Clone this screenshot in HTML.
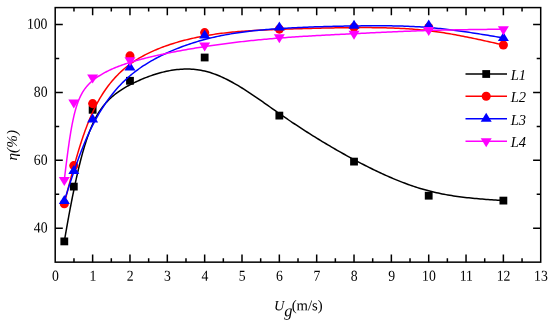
<!DOCTYPE html>
<html><head><meta charset="utf-8"><title>chart</title>
<style>html,body{margin:0;padding:0;background:#fff}svg{display:block}text{font-family:"Liberation Serif",serif;fill:#000}</style></head><body>
<svg width="550" height="323" viewBox="0 0 550 323">
<rect width="550" height="323" fill="#fff"/>
<path d="M64.30 241.40 L64.54 240.03 L64.78 238.66 L65.01 237.29 L65.25 235.92 L65.49 234.54 L65.73 233.17 L65.97 231.79 L66.21 230.41 L66.46 229.03 L66.70 227.64 L66.94 226.25 L67.19 224.86 L67.44 223.46 L67.69 222.06 L67.94 220.66 L68.20 219.25 L68.46 217.83 L68.72 216.41 L68.98 214.98 L69.24 213.54 L69.51 212.10 L69.78 210.65 L70.06 209.19 L70.34 207.73 L70.62 206.25 L70.90 204.77 L71.19 203.28 L71.48 201.78 L71.78 200.27 L72.08 198.75 L72.39 197.22 L72.70 195.68 L73.01 194.13 L73.33 192.57 L73.66 190.99 L73.98 189.41 L74.32 187.81 L74.66 186.20 L75.01 184.57 L75.36 182.93 L75.71 181.28 L76.08 179.62 L76.45 177.94 L76.82 176.25 L77.20 174.56 L77.59 172.86 L77.99 171.14 L78.39 169.43 L78.80 167.70 L79.21 165.98 L79.64 164.25 L80.07 162.52 L80.51 160.79 L80.95 159.05 L81.41 157.32 L81.87 155.60 L82.34 153.87 L82.82 152.16 L83.30 150.44 L83.80 148.74 L84.30 147.04 L84.82 145.35 L85.34 143.67 L85.87 142.01 L86.41 140.35 L86.96 138.71 L87.52 137.08 L88.09 135.47 L88.67 133.88 L89.26 132.30 L89.85 130.75 L90.46 129.21 L91.08 127.69 L91.71 126.20 L92.35 124.73 L93.01 123.28 L93.67 121.86 L94.34 120.47 L95.03 119.10 L95.72 117.77 L96.43 116.46 L97.15 115.18 L97.88 113.93 L98.63 112.71 L99.39 111.51 L100.16 110.35 L100.94 109.20 L101.74 108.09 L102.55 106.99 L103.37 105.93 L104.21 104.88 L105.07 103.86 L105.94 102.86 L106.82 101.88 L107.72 100.92 L108.64 99.98 L109.57 99.06 L110.52 98.16 L111.49 97.28 L112.47 96.41 L113.47 95.57 L114.49 94.73 L115.53 93.92 L116.59 93.12 L117.66 92.33 L118.75 91.55 L119.86 90.79 L121.00 90.04 L122.15 89.30 L123.32 88.58 L124.51 87.86 L125.72 87.15 L126.96 86.45 L128.21 85.76 L129.49 85.08 L130.79 84.40 L132.11 83.73 L133.45 83.07 L134.81 82.41 L136.20 81.75 L137.62 81.10 L139.05 80.45 L140.51 79.81 L141.98 79.18 L143.48 78.55 L145.00 77.93 L146.54 77.33 L148.10 76.73 L149.68 76.15 L151.28 75.59 L152.89 75.04 L154.52 74.50 L156.16 73.99 L157.83 73.49 L159.50 73.01 L161.20 72.55 L162.90 72.12 L164.62 71.71 L166.35 71.32 L168.10 70.96 L169.85 70.63 L171.62 70.33 L173.40 70.05 L175.19 69.81 L176.98 69.60 L178.79 69.42 L180.60 69.28 L182.42 69.17 L184.25 69.10 L186.09 69.06 L187.93 69.07 L189.77 69.11 L191.62 69.20 L193.48 69.33 L195.34 69.50 L197.20 69.72 L199.06 69.99 L200.93 70.30 L202.79 70.66 L204.66 71.07 L206.53 71.53 L208.39 72.04 L210.26 72.59 L212.13 73.20 L214.00 73.85 L215.86 74.54 L217.73 75.27 L219.60 76.05 L221.46 76.86 L223.33 77.72 L225.20 78.61 L227.06 79.53 L228.93 80.49 L230.80 81.47 L232.67 82.49 L234.53 83.54 L236.40 84.62 L238.27 85.72 L240.13 86.84 L242.00 87.99 L243.87 89.16 L245.73 90.36 L247.60 91.57 L249.47 92.79 L251.34 94.04 L253.20 95.29 L255.07 96.56 L256.94 97.84 L258.80 99.14 L260.67 100.44 L262.54 101.74 L264.40 103.06 L266.27 104.37 L268.14 105.69 L270.01 107.01 L271.87 108.33 L273.74 109.65 L275.61 110.97 L277.47 112.28 L279.34 113.58 L281.21 114.88 L283.07 116.17 L284.94 117.45 L286.81 118.73 L288.68 120.00 L290.54 121.25 L292.41 122.51 L294.28 123.75 L296.14 124.99 L298.01 126.22 L299.88 127.44 L301.74 128.65 L303.61 129.86 L305.48 131.06 L307.34 132.25 L309.21 133.44 L311.08 134.61 L312.95 135.78 L314.81 136.95 L316.68 138.10 L318.55 139.25 L320.41 140.39 L322.28 141.52 L324.15 142.64 L326.02 143.76 L327.88 144.87 L329.75 145.97 L331.62 147.07 L333.48 148.15 L335.35 149.23 L337.22 150.30 L339.08 151.37 L340.95 152.43 L342.82 153.48 L344.69 154.52 L346.55 155.55 L348.42 156.58 L350.29 157.60 L352.15 158.61 L354.02 159.62 L355.89 160.61 L357.75 161.60 L359.62 162.59 L361.49 163.56 L363.36 164.52 L365.22 165.48 L367.09 166.43 L368.96 167.37 L370.82 168.29 L372.69 169.21 L374.56 170.12 L376.42 171.02 L378.29 171.91 L380.16 172.78 L382.03 173.65 L383.89 174.50 L385.76 175.34 L387.63 176.17 L389.49 176.99 L391.36 177.79 L393.23 178.59 L395.09 179.36 L396.96 180.13 L398.83 180.88 L400.70 181.62 L402.56 182.34 L404.43 183.05 L406.30 183.75 L408.16 184.43 L410.03 185.09 L411.90 185.74 L413.76 186.37 L415.63 186.99 L417.50 187.59 L419.37 188.17 L421.23 188.74 L423.10 189.29 L424.97 189.82 L426.83 190.34 L428.70 190.83 L430.61 191.32 L432.53 191.80 L434.44 192.25 L436.36 192.69 L438.27 193.10 L440.19 193.51 L442.10 193.89 L444.02 194.26 L445.93 194.62 L447.85 194.96 L449.76 195.28 L451.68 195.59 L453.59 195.89 L455.51 196.18 L457.42 196.45 L459.34 196.71 L461.25 196.96 L463.17 197.20 L465.08 197.43 L467.00 197.65 L468.91 197.86 L470.83 198.06 L472.74 198.25 L474.66 198.44 L476.57 198.62 L478.49 198.79 L480.40 198.95 L482.32 199.11 L484.23 199.26 L486.15 199.41 L488.06 199.55 L489.98 199.69 L491.89 199.83 L493.81 199.96 L495.72 200.09 L497.64 200.22 L499.55 200.35 L501.47 200.47 L503.38 200.60" fill="none" stroke="#000000" stroke-width="1.5"/>
<rect x="60.40" y="237.50" width="7.8" height="7.8" fill="#000000"/>
<rect x="69.90" y="182.70" width="7.8" height="7.8" fill="#000000"/>
<rect x="88.74" y="105.90" width="7.8" height="7.8" fill="#000000"/>
<rect x="126.08" y="76.90" width="7.8" height="7.8" fill="#000000"/>
<rect x="200.76" y="53.60" width="7.8" height="7.8" fill="#000000"/>
<rect x="275.44" y="111.70" width="7.8" height="7.8" fill="#000000"/>
<rect x="350.12" y="157.70" width="7.8" height="7.8" fill="#000000"/>
<rect x="424.80" y="191.80" width="7.8" height="7.8" fill="#000000"/>
<rect x="499.48" y="196.70" width="7.8" height="7.8" fill="#000000"/>
<path d="M64.30 203.80 L64.54 202.84 L64.78 201.89 L65.01 200.93 L65.25 199.98 L65.49 199.02 L65.73 198.06 L65.97 197.09 L66.21 196.13 L66.46 195.16 L66.70 194.19 L66.94 193.21 L67.19 192.23 L67.44 191.25 L67.69 190.26 L67.94 189.27 L68.20 188.27 L68.46 187.26 L68.72 186.25 L68.98 185.23 L69.24 184.20 L69.51 183.17 L69.78 182.13 L70.06 181.08 L70.34 180.02 L70.62 178.96 L70.90 177.88 L71.19 176.80 L71.48 175.70 L71.78 174.59 L72.08 173.48 L72.39 172.35 L72.70 171.21 L73.01 170.06 L73.33 168.89 L73.66 167.72 L73.98 166.53 L74.32 165.33 L74.66 164.11 L75.01 162.88 L75.36 161.63 L75.71 160.37 L76.08 159.10 L76.45 157.81 L76.82 156.51 L77.20 155.20 L77.59 153.87 L77.99 152.54 L78.39 151.19 L78.80 149.83 L79.21 148.46 L79.64 147.09 L80.07 145.70 L80.51 144.31 L80.95 142.91 L81.41 141.51 L81.87 140.10 L82.34 138.68 L82.82 137.26 L83.30 135.83 L83.80 134.40 L84.30 132.97 L84.82 131.54 L85.34 130.10 L85.87 128.66 L86.41 127.22 L86.96 125.78 L87.52 124.35 L88.09 122.91 L88.67 121.48 L89.26 120.04 L89.85 118.61 L90.46 117.19 L91.08 115.77 L91.71 114.35 L92.35 112.94 L93.01 111.53 L93.67 110.13 L94.34 108.74 L95.03 107.36 L95.72 105.98 L96.43 104.62 L97.15 103.26 L97.88 101.91 L98.63 100.57 L99.39 99.24 L100.16 97.92 L100.94 96.61 L101.74 95.31 L102.55 94.02 L103.37 92.74 L104.21 91.48 L105.07 90.22 L105.94 88.97 L106.82 87.73 L107.72 86.51 L108.64 85.30 L109.57 84.09 L110.52 82.90 L111.49 81.72 L112.47 80.56 L113.47 79.40 L114.49 78.26 L115.53 77.13 L116.59 76.01 L117.66 74.91 L118.75 73.81 L119.86 72.74 L121.00 71.67 L122.15 70.62 L123.32 69.58 L124.51 68.55 L125.72 67.54 L126.96 66.54 L128.21 65.56 L129.49 64.59 L130.79 63.64 L132.11 62.70 L133.45 61.77 L134.81 60.86 L136.20 59.97 L137.62 59.09 L139.05 58.22 L140.51 57.37 L141.98 56.54 L143.48 55.72 L145.00 54.91 L146.54 54.12 L148.10 53.35 L149.68 52.59 L151.28 51.84 L152.89 51.11 L154.52 50.39 L156.16 49.69 L157.83 49.00 L159.50 48.33 L161.20 47.67 L162.90 47.02 L164.62 46.39 L166.35 45.77 L168.10 45.17 L169.85 44.58 L171.62 44.00 L173.40 43.44 L175.19 42.89 L176.98 42.36 L178.79 41.84 L180.60 41.33 L182.42 40.83 L184.25 40.35 L186.09 39.88 L187.93 39.42 L189.77 38.98 L191.62 38.55 L193.48 38.14 L195.34 37.73 L197.20 37.34 L199.06 36.96 L200.93 36.59 L202.79 36.24 L204.66 35.90 L206.53 35.57 L208.39 35.25 L210.26 34.95 L212.13 34.66 L214.00 34.37 L215.86 34.10 L217.73 33.84 L219.60 33.59 L221.46 33.35 L223.33 33.12 L225.20 32.90 L227.06 32.69 L228.93 32.49 L230.80 32.29 L232.67 32.11 L234.53 31.93 L236.40 31.76 L238.27 31.60 L240.13 31.44 L242.00 31.30 L243.87 31.15 L245.73 31.02 L247.60 30.89 L249.47 30.77 L251.34 30.65 L253.20 30.54 L255.07 30.43 L256.94 30.33 L258.80 30.23 L260.67 30.14 L262.54 30.05 L264.40 29.96 L266.27 29.88 L268.14 29.80 L270.01 29.72 L271.87 29.65 L273.74 29.57 L275.61 29.50 L277.47 29.43 L279.34 29.37 L281.21 29.30 L283.07 29.23 L284.94 29.17 L286.81 29.10 L288.68 29.04 L290.54 28.98 L292.41 28.92 L294.28 28.86 L296.14 28.80 L298.01 28.74 L299.88 28.69 L301.74 28.63 L303.61 28.58 L305.48 28.53 L307.34 28.48 L309.21 28.43 L311.08 28.38 L312.95 28.33 L314.81 28.28 L316.68 28.24 L318.55 28.20 L320.41 28.15 L322.28 28.11 L324.15 28.07 L326.02 28.04 L327.88 28.00 L329.75 27.97 L331.62 27.93 L333.48 27.90 L335.35 27.87 L337.22 27.84 L339.08 27.81 L340.95 27.79 L342.82 27.76 L344.69 27.74 L346.55 27.72 L348.42 27.70 L350.29 27.68 L352.15 27.66 L354.02 27.65 L355.89 27.64 L357.75 27.63 L359.62 27.62 L361.49 27.61 L363.36 27.61 L365.22 27.61 L367.09 27.61 L368.96 27.61 L370.82 27.62 L372.69 27.63 L374.56 27.65 L376.42 27.67 L378.29 27.69 L380.16 27.72 L382.03 27.75 L383.89 27.79 L385.76 27.83 L387.63 27.88 L389.49 27.93 L391.36 27.99 L393.23 28.06 L395.09 28.13 L396.96 28.21 L398.83 28.29 L400.70 28.38 L402.56 28.48 L404.43 28.59 L406.30 28.70 L408.16 28.82 L410.03 28.95 L411.90 29.08 L413.76 29.23 L415.63 29.38 L417.50 29.54 L419.37 29.71 L421.23 29.89 L423.10 30.08 L424.97 30.27 L426.83 30.48 L428.70 30.70 L430.61 30.93 L432.53 31.18 L434.44 31.43 L436.36 31.70 L438.27 31.97 L440.19 32.25 L442.10 32.54 L444.02 32.84 L445.93 33.15 L447.85 33.47 L449.76 33.79 L451.68 34.13 L453.59 34.47 L455.51 34.81 L457.42 35.17 L459.34 35.53 L461.25 35.89 L463.17 36.27 L465.08 36.65 L467.00 37.03 L468.91 37.42 L470.83 37.81 L472.74 38.21 L474.66 38.62 L476.57 39.02 L478.49 39.43 L480.40 39.85 L482.32 40.27 L484.23 40.69 L486.15 41.11 L488.06 41.54 L489.98 41.96 L491.89 42.39 L493.81 42.83 L495.72 43.26 L497.64 43.69 L499.55 44.13 L501.47 44.56 L503.38 45.00" fill="none" stroke="#ff0000" stroke-width="1.5"/>
<circle cx="64.30" cy="203.80" r="4.55" fill="#ff0000"/>
<circle cx="73.80" cy="165.60" r="4.55" fill="#ff0000"/>
<circle cx="92.64" cy="103.60" r="4.55" fill="#ff0000"/>
<circle cx="129.98" cy="55.90" r="4.55" fill="#ff0000"/>
<circle cx="204.66" cy="32.60" r="4.55" fill="#ff0000"/>
<circle cx="279.34" cy="29.10" r="4.55" fill="#ff0000"/>
<circle cx="354.02" cy="27.20" r="4.55" fill="#ff0000"/>
<circle cx="428.70" cy="27.40" r="4.55" fill="#ff0000"/>
<circle cx="503.38" cy="45.00" r="4.55" fill="#ff0000"/>
<path d="M64.30 201.00 L64.54 200.25 L64.78 199.50 L65.01 198.75 L65.25 198.00 L65.49 197.24 L65.73 196.49 L65.97 195.73 L66.21 194.97 L66.46 194.21 L66.70 193.44 L66.94 192.68 L67.19 191.90 L67.44 191.13 L67.69 190.35 L67.94 189.56 L68.20 188.77 L68.46 187.97 L68.72 187.17 L68.98 186.37 L69.24 185.55 L69.51 184.73 L69.78 183.90 L70.06 183.07 L70.34 182.23 L70.62 181.38 L70.90 180.52 L71.19 179.65 L71.48 178.77 L71.78 177.88 L72.08 176.99 L72.39 176.08 L72.70 175.17 L73.01 174.24 L73.33 173.30 L73.66 172.35 L73.98 171.39 L74.32 170.41 L74.66 169.43 L75.01 168.43 L75.36 167.42 L75.71 166.39 L76.08 165.35 L76.45 164.30 L76.82 163.24 L77.20 162.16 L77.59 161.07 L77.99 159.97 L78.39 158.86 L78.80 157.74 L79.21 156.61 L79.64 155.47 L80.07 154.32 L80.51 153.16 L80.95 151.99 L81.41 150.81 L81.87 149.62 L82.34 148.42 L82.82 147.22 L83.30 146.01 L83.80 144.79 L84.30 143.57 L84.82 142.33 L85.34 141.10 L85.87 139.85 L86.41 138.60 L86.96 137.35 L87.52 136.09 L88.09 134.82 L88.67 133.56 L89.26 132.28 L89.85 131.01 L90.46 129.73 L91.08 128.45 L91.71 127.16 L92.35 125.87 L93.01 124.59 L93.67 123.30 L94.34 122.00 L95.03 120.71 L95.72 119.42 L96.43 118.12 L97.15 116.83 L97.88 115.54 L98.63 114.24 L99.39 112.95 L100.16 111.66 L100.94 110.37 L101.74 109.08 L102.55 107.80 L103.37 106.52 L104.21 105.24 L105.07 103.96 L105.94 102.69 L106.82 101.42 L107.72 100.16 L108.64 98.90 L109.57 97.64 L110.52 96.39 L111.49 95.15 L112.47 93.91 L113.47 92.67 L114.49 91.45 L115.53 90.23 L116.59 89.01 L117.66 87.81 L118.75 86.61 L119.86 85.42 L121.00 84.24 L122.15 83.07 L123.32 81.90 L124.51 80.75 L125.72 79.61 L126.96 78.47 L128.21 77.35 L129.49 76.23 L130.79 75.13 L132.11 74.04 L133.45 72.96 L134.81 71.89 L136.20 70.83 L137.62 69.79 L139.05 68.76 L140.51 67.74 L141.98 66.73 L143.48 65.74 L145.00 64.76 L146.54 63.79 L148.10 62.84 L149.68 61.90 L151.28 60.97 L152.89 60.05 L154.52 59.15 L156.16 58.26 L157.83 57.39 L159.50 56.53 L161.20 55.68 L162.90 54.84 L164.62 54.02 L166.35 53.21 L168.10 52.42 L169.85 51.64 L171.62 50.87 L173.40 50.12 L175.19 49.38 L176.98 48.66 L178.79 47.95 L180.60 47.25 L182.42 46.57 L184.25 45.90 L186.09 45.25 L187.93 44.61 L189.77 43.98 L191.62 43.37 L193.48 42.78 L195.34 42.20 L197.20 41.63 L199.06 41.08 L200.93 40.54 L202.79 40.02 L204.66 39.52 L206.53 39.03 L208.39 38.55 L210.26 38.09 L212.13 37.64 L214.00 37.21 L215.86 36.79 L217.73 36.38 L219.60 35.98 L221.46 35.60 L223.33 35.24 L225.20 34.88 L227.06 34.53 L228.93 34.20 L230.80 33.88 L232.67 33.57 L234.53 33.27 L236.40 32.98 L238.27 32.70 L240.13 32.44 L242.00 32.18 L243.87 31.93 L245.73 31.69 L247.60 31.46 L249.47 31.23 L251.34 31.02 L253.20 30.81 L255.07 30.61 L256.94 30.42 L258.80 30.24 L260.67 30.06 L262.54 29.89 L264.40 29.72 L266.27 29.57 L268.14 29.41 L270.01 29.27 L271.87 29.12 L273.74 28.99 L275.61 28.85 L277.47 28.72 L279.34 28.60 L281.21 28.48 L283.07 28.36 L284.94 28.25 L286.81 28.14 L288.68 28.03 L290.54 27.93 L292.41 27.83 L294.28 27.73 L296.14 27.64 L298.01 27.55 L299.88 27.46 L301.74 27.38 L303.61 27.30 L305.48 27.22 L307.34 27.15 L309.21 27.07 L311.08 27.00 L312.95 26.94 L314.81 26.87 L316.68 26.81 L318.55 26.75 L320.41 26.69 L322.28 26.63 L324.15 26.58 L326.02 26.53 L327.88 26.48 L329.75 26.43 L331.62 26.39 L333.48 26.34 L335.35 26.30 L337.22 26.26 L339.08 26.22 L340.95 26.19 L342.82 26.15 L344.69 26.12 L346.55 26.09 L348.42 26.05 L350.29 26.02 L352.15 25.99 L354.02 25.97 L355.89 25.94 L357.75 25.91 L359.62 25.89 L361.49 25.87 L363.36 25.85 L365.22 25.83 L367.09 25.81 L368.96 25.79 L370.82 25.78 L372.69 25.77 L374.56 25.76 L376.42 25.76 L378.29 25.76 L380.16 25.76 L382.03 25.77 L383.89 25.77 L385.76 25.79 L387.63 25.80 L389.49 25.82 L391.36 25.85 L393.23 25.88 L395.09 25.91 L396.96 25.95 L398.83 26.00 L400.70 26.05 L402.56 26.10 L404.43 26.16 L406.30 26.23 L408.16 26.30 L410.03 26.38 L411.90 26.46 L413.76 26.55 L415.63 26.65 L417.50 26.76 L419.37 26.87 L421.23 26.99 L423.10 27.11 L424.97 27.24 L426.83 27.38 L428.70 27.53 L430.61 27.69 L432.53 27.86 L434.44 28.04 L436.36 28.22 L438.27 28.42 L440.19 28.62 L442.10 28.82 L444.02 29.04 L445.93 29.26 L447.85 29.48 L449.76 29.72 L451.68 29.95 L453.59 30.20 L455.51 30.45 L457.42 30.70 L459.34 30.97 L461.25 31.23 L463.17 31.50 L465.08 31.78 L467.00 32.06 L468.91 32.34 L470.83 32.63 L472.74 32.92 L474.66 33.21 L476.57 33.51 L478.49 33.81 L480.40 34.12 L482.32 34.42 L484.23 34.73 L486.15 35.04 L488.06 35.35 L489.98 35.67 L491.89 35.98 L493.81 36.30 L495.72 36.62 L497.64 36.94 L499.55 37.26 L501.47 37.58 L503.38 37.90" fill="none" stroke="#0000ff" stroke-width="1.5"/>
<polygon points="64.30,195.00 58.80,204.00 69.80,204.00" fill="#0000ff"/>
<polygon points="73.80,165.00 68.30,174.00 79.30,174.00" fill="#0000ff"/>
<polygon points="92.64,113.50 87.14,122.50 98.14,122.50" fill="#0000ff"/>
<polygon points="129.98,61.50 124.48,70.50 135.48,70.50" fill="#0000ff"/>
<polygon points="204.66,29.50 199.16,38.50 210.16,38.50" fill="#0000ff"/>
<polygon points="279.34,21.60 273.84,30.60 284.84,30.60" fill="#0000ff"/>
<polygon points="354.02,19.70 348.52,28.70 359.52,28.70" fill="#0000ff"/>
<polygon points="428.70,19.40 423.20,28.40 434.20,28.40" fill="#0000ff"/>
<polygon points="503.38,31.90 497.88,40.90 508.88,40.90" fill="#0000ff"/>
<path d="M64.30 179.90 L64.54 177.93 L64.78 175.97 L65.01 174.00 L65.25 172.04 L65.49 170.08 L65.73 168.13 L65.97 166.18 L66.21 164.23 L66.46 162.30 L66.70 160.37 L66.94 158.45 L67.19 156.54 L67.44 154.63 L67.69 152.74 L67.94 150.87 L68.20 149.00 L68.46 147.15 L68.72 145.31 L68.98 143.49 L69.24 141.69 L69.51 139.90 L69.78 138.13 L70.06 136.37 L70.34 134.64 L70.62 132.93 L70.90 131.24 L71.19 129.57 L71.48 127.93 L71.78 126.30 L72.08 124.71 L72.39 123.14 L72.70 121.59 L73.01 120.07 L73.33 118.58 L73.66 117.12 L73.98 115.69 L74.32 114.29 L74.66 112.92 L75.01 111.59 L75.36 110.28 L75.71 109.01 L76.08 107.78 L76.45 106.57 L76.82 105.40 L77.20 104.26 L77.59 103.15 L77.99 102.07 L78.39 101.02 L78.80 100.00 L79.21 99.00 L79.64 98.03 L80.07 97.09 L80.51 96.17 L80.95 95.28 L81.41 94.41 L81.87 93.56 L82.34 92.74 L82.82 91.94 L83.30 91.15 L83.80 90.39 L84.30 89.65 L84.82 88.93 L85.34 88.22 L85.87 87.53 L86.41 86.86 L86.96 86.20 L87.52 85.56 L88.09 84.93 L88.67 84.32 L89.26 83.72 L89.85 83.13 L90.46 82.55 L91.08 81.99 L91.71 81.43 L92.35 80.88 L93.01 80.34 L93.67 79.81 L94.34 79.28 L95.03 78.76 L95.72 78.25 L96.43 77.74 L97.15 77.24 L97.88 76.74 L98.63 76.24 L99.39 75.75 L100.16 75.26 L100.94 74.78 L101.74 74.30 L102.55 73.83 L103.37 73.36 L104.21 72.89 L105.07 72.43 L105.94 71.97 L106.82 71.51 L107.72 71.06 L108.64 70.61 L109.57 70.16 L110.52 69.72 L111.49 69.28 L112.47 68.85 L113.47 68.41 L114.49 67.98 L115.53 67.55 L116.59 67.13 L117.66 66.71 L118.75 66.29 L119.86 65.87 L121.00 65.45 L122.15 65.04 L123.32 64.63 L124.51 64.22 L125.72 63.81 L126.96 63.41 L128.21 63.00 L129.49 62.60 L130.79 62.20 L132.11 61.80 L133.45 61.41 L134.81 61.01 L136.20 60.62 L137.62 60.22 L139.05 59.83 L140.51 59.44 L141.98 59.05 L143.48 58.66 L145.00 58.28 L146.54 57.89 L148.10 57.51 L149.68 57.13 L151.28 56.75 L152.89 56.37 L154.52 56.00 L156.16 55.63 L157.83 55.25 L159.50 54.89 L161.20 54.52 L162.90 54.15 L164.62 53.79 L166.35 53.43 L168.10 53.08 L169.85 52.72 L171.62 52.37 L173.40 52.02 L175.19 51.68 L176.98 51.34 L178.79 51.00 L180.60 50.66 L182.42 50.33 L184.25 50.00 L186.09 49.67 L187.93 49.35 L189.77 49.03 L191.62 48.71 L193.48 48.40 L195.34 48.09 L197.20 47.78 L199.06 47.48 L200.93 47.18 L202.79 46.89 L204.66 46.60 L206.53 46.31 L208.39 46.03 L210.26 45.76 L212.13 45.48 L214.00 45.21 L215.86 44.95 L217.73 44.69 L219.60 44.43 L221.46 44.18 L223.33 43.93 L225.20 43.68 L227.06 43.44 L228.93 43.20 L230.80 42.96 L232.67 42.73 L234.53 42.51 L236.40 42.28 L238.27 42.06 L240.13 41.85 L242.00 41.63 L243.87 41.42 L245.73 41.22 L247.60 41.02 L249.47 40.82 L251.34 40.62 L253.20 40.43 L255.07 40.24 L256.94 40.05 L258.80 39.87 L260.67 39.69 L262.54 39.51 L264.40 39.34 L266.27 39.17 L268.14 39.00 L270.01 38.84 L271.87 38.68 L273.74 38.52 L275.61 38.37 L277.47 38.22 L279.34 38.07 L281.21 37.92 L283.07 37.78 L284.94 37.64 L286.81 37.50 L288.68 37.36 L290.54 37.23 L292.41 37.10 L294.28 36.97 L296.14 36.85 L298.01 36.72 L299.88 36.60 L301.74 36.48 L303.61 36.37 L305.48 36.25 L307.34 36.14 L309.21 36.02 L311.08 35.91 L312.95 35.81 L314.81 35.70 L316.68 35.59 L318.55 35.49 L320.41 35.39 L322.28 35.29 L324.15 35.19 L326.02 35.09 L327.88 34.99 L329.75 34.89 L331.62 34.79 L333.48 34.70 L335.35 34.60 L337.22 34.51 L339.08 34.42 L340.95 34.32 L342.82 34.23 L344.69 34.14 L346.55 34.05 L348.42 33.96 L350.29 33.87 L352.15 33.77 L354.02 33.68 L355.89 33.59 L357.75 33.50 L359.62 33.41 L361.49 33.32 L363.36 33.23 L365.22 33.14 L367.09 33.05 L368.96 32.96 L370.82 32.87 L372.69 32.78 L374.56 32.69 L376.42 32.60 L378.29 32.51 L380.16 32.42 L382.03 32.33 L383.89 32.25 L385.76 32.16 L387.63 32.08 L389.49 31.99 L391.36 31.91 L393.23 31.83 L395.09 31.74 L396.96 31.66 L398.83 31.58 L400.70 31.50 L402.56 31.43 L404.43 31.35 L406.30 31.28 L408.16 31.20 L410.03 31.13 L411.90 31.06 L413.76 30.99 L415.63 30.92 L417.50 30.85 L419.37 30.79 L421.23 30.72 L423.10 30.66 L424.97 30.60 L426.83 30.54 L428.70 30.48 L430.61 30.43 L432.53 30.37 L434.44 30.32 L436.36 30.27 L438.27 30.22 L440.19 30.17 L442.10 30.12 L444.02 30.08 L445.93 30.04 L447.85 29.99 L449.76 29.95 L451.68 29.91 L453.59 29.88 L455.51 29.84 L457.42 29.80 L459.34 29.77 L461.25 29.74 L463.17 29.71 L465.08 29.68 L467.00 29.65 L468.91 29.62 L470.83 29.59 L472.74 29.56 L474.66 29.54 L476.57 29.51 L478.49 29.48 L480.40 29.46 L482.32 29.44 L484.23 29.41 L486.15 29.39 L488.06 29.37 L489.98 29.35 L491.89 29.32 L493.81 29.30 L495.72 29.28 L497.64 29.26 L499.55 29.24 L501.47 29.22 L503.38 29.20" fill="none" stroke="#ff00ff" stroke-width="1.5"/>
<polygon points="64.30,185.90 58.80,176.90 69.80,176.90" fill="#ff00ff"/>
<polygon points="73.80,108.40 68.30,99.40 79.30,99.40" fill="#ff00ff"/>
<polygon points="92.64,83.40 87.14,74.40 98.14,74.40" fill="#ff00ff"/>
<polygon points="129.98,66.30 124.48,57.30 135.48,57.30" fill="#ff00ff"/>
<polygon points="204.66,51.50 199.16,42.50 210.16,42.50" fill="#ff00ff"/>
<polygon points="279.34,43.30 273.84,34.30 284.84,34.30" fill="#ff00ff"/>
<polygon points="354.02,39.70 348.52,30.70 359.52,30.70" fill="#ff00ff"/>
<polygon points="428.70,36.00 423.20,27.00 434.20,27.00" fill="#ff00ff"/>
<polygon points="503.38,35.20 497.88,26.20 508.88,26.20" fill="#ff00ff"/>
<rect x="55.2" y="7.6" width="485.50" height="254.55" fill="none" stroke="#000" stroke-width="1.5"/>
<path d="M73.97 262.15 v-4.0 M73.97 7.6 v4.0 M92.64 262.15 v-7.6 M92.64 7.6 v7.6 M111.31 262.15 v-4.0 M111.31 7.6 v4.0 M129.98 262.15 v-7.6 M129.98 7.6 v7.6 M148.65 262.15 v-4.0 M148.65 7.6 v4.0 M167.32 262.15 v-7.6 M167.32 7.6 v7.6 M185.99 262.15 v-4.0 M185.99 7.6 v4.0 M204.66 262.15 v-7.6 M204.66 7.6 v7.6 M223.33 262.15 v-4.0 M223.33 7.6 v4.0 M242.00 262.15 v-7.6 M242.00 7.6 v7.6 M260.67 262.15 v-4.0 M260.67 7.6 v4.0 M279.34 262.15 v-7.6 M279.34 7.6 v7.6 M298.01 262.15 v-4.0 M298.01 7.6 v4.0 M316.68 262.15 v-7.6 M316.68 7.6 v7.6 M335.35 262.15 v-4.0 M335.35 7.6 v4.0 M354.02 262.15 v-7.6 M354.02 7.6 v7.6 M372.69 262.15 v-4.0 M372.69 7.6 v4.0 M391.36 262.15 v-7.6 M391.36 7.6 v7.6 M410.03 262.15 v-4.0 M410.03 7.6 v4.0 M428.70 262.15 v-7.6 M428.70 7.6 v7.6 M447.37 262.15 v-4.0 M447.37 7.6 v4.0 M466.04 262.15 v-7.6 M466.04 7.6 v7.6 M484.71 262.15 v-4.0 M484.71 7.6 v4.0 M503.38 262.15 v-7.6 M503.38 7.6 v7.6 M522.05 262.15 v-4.0 M522.05 7.6 v4.0 M55.2 228.26 h7.6 M540.7 228.26 h-7.6 M55.2 194.30 h4.0 M540.7 194.30 h-4.0 M55.2 160.34 h7.6 M540.7 160.34 h-7.6 M55.2 126.38 h4.0 M540.7 126.38 h-4.0 M55.2 92.42 h7.6 M540.7 92.42 h-7.6 M55.2 58.46 h4.0 M540.7 58.46 h-4.0 M55.2 24.50 h7.6 M540.7 24.50 h-7.6" fill="none" stroke="#000" stroke-width="1.5"/>
<text transform="translate(55.50,280.75) scale(0.955,1.06) rotate(0.03)" font-size="14.4" text-anchor="middle">0</text>
<text transform="translate(92.84,280.75) scale(0.955,1.06) rotate(0.03)" font-size="14.4" text-anchor="middle">1</text>
<text transform="translate(130.18,280.75) scale(0.955,1.06) rotate(0.03)" font-size="14.4" text-anchor="middle">2</text>
<text transform="translate(167.52,280.75) scale(0.955,1.06) rotate(0.03)" font-size="14.4" text-anchor="middle">3</text>
<text transform="translate(204.86,280.75) scale(0.955,1.06) rotate(0.03)" font-size="14.4" text-anchor="middle">4</text>
<text transform="translate(242.20,280.75) scale(0.955,1.06) rotate(0.03)" font-size="14.4" text-anchor="middle">5</text>
<text transform="translate(279.54,280.75) scale(0.955,1.06) rotate(0.03)" font-size="14.4" text-anchor="middle">6</text>
<text transform="translate(316.88,280.75) scale(0.955,1.06) rotate(0.03)" font-size="14.4" text-anchor="middle">7</text>
<text transform="translate(354.22,280.75) scale(0.955,1.06) rotate(0.03)" font-size="14.4" text-anchor="middle">8</text>
<text transform="translate(391.56,280.75) scale(0.955,1.06) rotate(0.03)" font-size="14.4" text-anchor="middle">9</text>
<text transform="translate(428.90,280.75) scale(0.955,1.06) rotate(0.03)" font-size="14.4" text-anchor="middle">10</text>
<text transform="translate(466.24,280.75) scale(0.955,1.06) rotate(0.03)" font-size="14.4" text-anchor="middle">11</text>
<text transform="translate(503.58,280.75) scale(0.955,1.06) rotate(0.03)" font-size="14.4" text-anchor="middle">12</text>
<text transform="translate(540.92,280.75) scale(0.955,1.06) rotate(0.03)" font-size="14.4" text-anchor="middle">13</text>
<text transform="translate(47.5,232.56) scale(0.955,1.06) rotate(0.03)" font-size="14.4" text-anchor="end">40</text>
<text transform="translate(47.5,164.64) scale(0.955,1.06) rotate(0.03)" font-size="14.4" text-anchor="end">60</text>
<text transform="translate(47.5,96.72) scale(0.955,1.06) rotate(0.03)" font-size="14.4" text-anchor="end">80</text>
<text transform="translate(47.5,28.80) scale(0.955,1.06) rotate(0.03)" font-size="14.4" text-anchor="end">100</text>
<text transform="translate(274,310.2) rotate(0.03)" font-size="14.7"><tspan font-style="italic" font-size="14.3">U</tspan><tspan font-style="italic" dy="6.0" font-size="16.5">g</tspan><tspan dy="-6.0" dx="-0.9">(m/s)</tspan></text>
<text transform="translate(17.2,160.5) rotate(-90)" font-size="15.3" font-style="italic">η(%)</text>
<path d="M465.5 74.0 H507" stroke="#000000" stroke-width="1.5" fill="none"/>
<rect x="482.30" y="70.10" width="7.8" height="7.8" fill="#000000"/>
<text x="510.7" y="80.10" font-size="14.5" font-style="italic">L1</text>
<path d="M465.5 96.3 H507" stroke="#ff0000" stroke-width="1.5" fill="none"/>
<circle cx="486.20" cy="96.30" r="4.55" fill="#ff0000"/>
<text x="510.7" y="102.40" font-size="14.5" font-style="italic">L2</text>
<path d="M465.5 118.8 H507" stroke="#0000ff" stroke-width="1.5" fill="none"/>
<polygon points="486.20,112.80 480.70,121.80 491.70,121.80" fill="#0000ff"/>
<text x="510.7" y="124.90" font-size="14.5" font-style="italic">L3</text>
<path d="M465.5 141.3 H507" stroke="#ff00ff" stroke-width="1.5" fill="none"/>
<polygon points="486.20,147.30 480.70,138.30 491.70,138.30" fill="#ff00ff"/>
<text x="510.7" y="147.40" font-size="14.5" font-style="italic">L4</text>
</svg></body></html>
